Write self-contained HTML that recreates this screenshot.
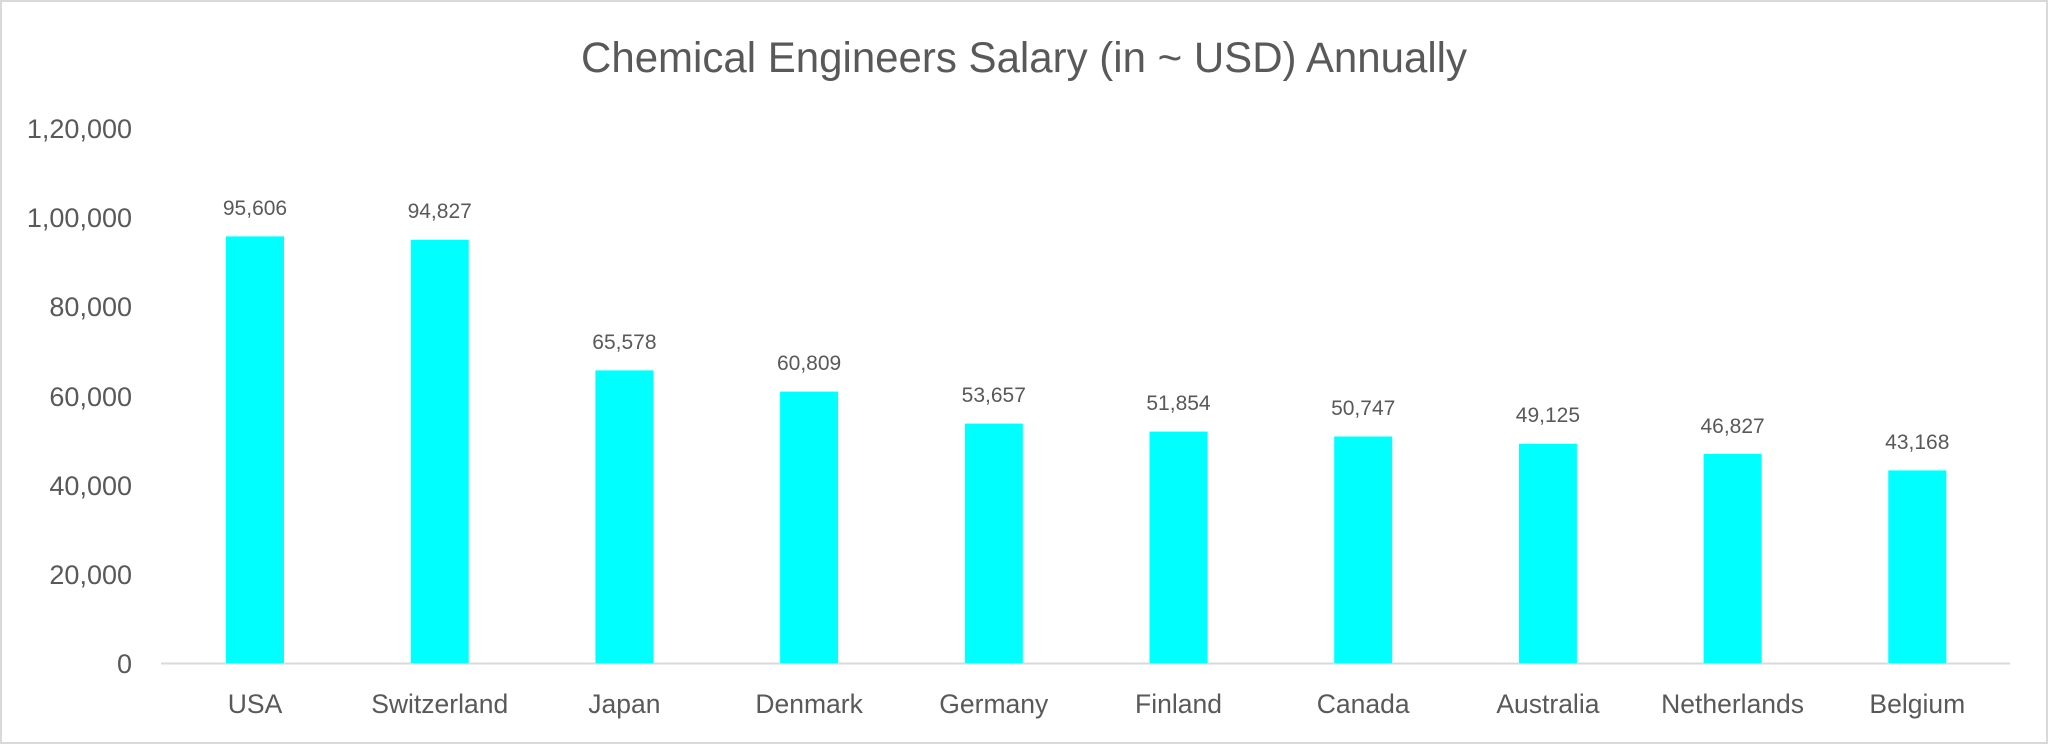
<!DOCTYPE html>
<html><head><meta charset="utf-8"><style>
html,body{margin:0;padding:0;background:#fff;}
svg{display:block;}
text{font-family:"Liberation Sans",sans-serif;fill:#595959;}
</style></head><body>
<svg width="2048" height="744" viewBox="0 0 2048 744" xmlns="http://www.w3.org/2000/svg">
<rect x="1" y="1" width="2046" height="742" fill="#fff" stroke="#d9d9d9" stroke-width="2"/>
<text x="1024" y="72" font-size="43" text-anchor="middle" textLength="886" lengthAdjust="spacingAndGlyphs">Chemical Engineers Salary (in ~ USD) Annually</text>
<g font-size="27" text-anchor="end">
<text x="132" y="138">1,20,000</text>
<text x="132" y="227">1,00,000</text>
<text x="132" y="316">80,000</text>
<text x="132" y="406">60,000</text>
<text x="132" y="495">40,000</text>
<text x="132" y="584">20,000</text>
<text x="132" y="673">0</text>
</g>
<line x1="161" y1="663.5" x2="2010" y2="663.5" stroke="#d9d9d9" stroke-width="2"/>
<g fill="#00ffff">
<rect x="226" y="236.4" width="58" height="426.6"/>
<rect x="410.7" y="239.8" width="58" height="423.2"/>
<rect x="595.4" y="370.4" width="58" height="292.6"/>
<rect x="780.1" y="391.6" width="58" height="271.4"/>
<rect x="964.8" y="423.6" width="58" height="239.4"/>
<rect x="1149.5" y="431.6" width="58" height="231.4"/>
<rect x="1334.2" y="436.5" width="58" height="226.5"/>
<rect x="1518.9" y="443.8" width="58" height="219.2"/>
<rect x="1703.6" y="454" width="58" height="209"/>
<rect x="1888.3" y="470.4" width="58" height="192.6"/>
</g>
<g font-size="21" text-anchor="middle">
<text x="255" y="215">95,606</text>
<text x="439.7" y="218">94,827</text>
<text x="624.4" y="349">65,578</text>
<text x="809.1" y="370">60,809</text>
<text x="993.8" y="402">53,657</text>
<text x="1178.5" y="410">51,854</text>
<text x="1363.2" y="415">50,747</text>
<text x="1547.9" y="422">49,125</text>
<text x="1732.6" y="433">46,827</text>
<text x="1917.3" y="449">43,168</text>
</g>
<g font-size="26.5" text-anchor="middle">
<text x="255" y="713">USA</text>
<text x="439.7" y="713">Switzerland</text>
<text x="624.4" y="713">Japan</text>
<text x="809.1" y="713">Denmark</text>
<text x="993.8" y="713">Germany</text>
<text x="1178.5" y="713">Finland</text>
<text x="1363.2" y="713">Canada</text>
<text x="1547.9" y="713">Australia</text>
<text x="1732.6" y="713">Netherlands</text>
<text x="1917.3" y="713">Belgium</text>
</g>
</svg>
</body></html>
